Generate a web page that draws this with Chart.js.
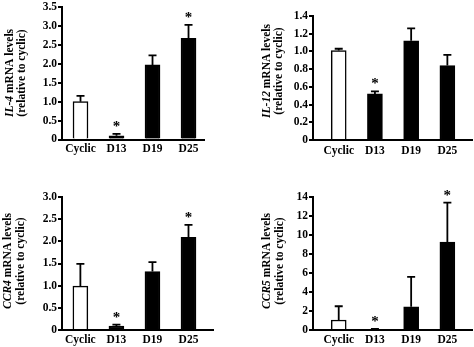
<!DOCTYPE html>
<html>
<head>
<meta charset="utf-8">
<script src="https://cdn.jsdelivr.net/npm/chart.js@4/dist/chart.umd.min.js"></script>
<style>
  html, body { margin: 0; padding: 0; background: #fff; }
  #wrap { position: relative; width: 474px; height: 347px; }
  canvas { position: absolute; }
</style>
</head>
<body>
<div id="wrap">
  <canvas id="c1" width="237" height="173" style="left:0;top:0"></canvas>
  <canvas id="c2" width="237" height="173" style="left:237px;top:0"></canvas>
  <canvas id="c3" width="237" height="174" style="left:0;top:173px"></canvas>
  <canvas id="c4" width="237" height="174" style="left:237px;top:173px"></canvas>
</div>
<script>
const categories = ['Cyclic', 'D13', 'D19', 'D25'];

// mean values and upper end of error bars (mean + SEM)
const il4Values = [1.0, 0.1, 1.97, 2.67];
const il4Upper = [1.15, 0.15, 2.22, 3.03];
const il4Signif = [false, true, false, true];

const il12Values = [1.01, 0.52, 1.12, 0.84];
const il12Upper = [1.03, 0.55, 1.26, 0.96];
const il12Signif = [false, true, false, false];

const ccr4Values = [0.99, 0.09, 1.32, 2.09];
const ccr4Upper = [1.49, 0.12, 1.53, 2.37];
const ccr4Signif = [false, true, false, true];

const ccr5Values = [1.05, 0.1, 2.45, 9.25];
const ccr5Upper = [2.5, 0.12, 5.6, 13.4];
const ccr5Signif = [false, true, false, true];

const FONT = '"Liberation Serif", "Times New Roman", serif';
const barColors = ['#ffffff', '#000000', '#000000', '#000000'];

const errorPlugin = {
  id: 'errors',
  afterDatasetsDraw(chart, args, opts) {
    const ctx = chart.ctx;
    const xs = chart.scales.x, ys = chart.scales.y;
    ctx.save();
    ctx.strokeStyle = '#000';
    ctx.lineWidth = 1.8;
    opts.upper.forEach((u, i) => {
      const x = xs.getPixelForValue(i);
      const y0 = ys.getPixelForValue(opts.values[i]);
      const y1 = ys.getPixelForValue(u);
      ctx.beginPath();
      ctx.moveTo(x, y0);
      ctx.lineTo(x, y1);
      ctx.moveTo(x - 4, y1);
      ctx.lineTo(x + 4, y1);
      ctx.stroke();
      if (opts.signif[i]) {
        ctx.fillStyle = '#000';
        ctx.font = 'bold 15px ' + FONT;
        ctx.textAlign = 'center';
        ctx.textBaseline = 'alphabetic';
        ctx.fillText('*', x, y1 - 3);
      }
    });
    ctx.restore();
  }
};

const titlePlugin = {
  id: 'ytitle',
  afterDraw(chart, args, opts) {
    const ctx = chart.ctx;
    ctx.save();
    ctx.translate(0, opts.cy);
    ctx.rotate(-Math.PI / 2);
    ctx.fillStyle = '#000';
    ctx.textBaseline = 'middle';
    ctx.textAlign = 'left';
    const it = 'italic bold 11.5px ' + FONT, rg = 'bold 11.5px ' + FONT;
    const rest = ' mRNA levels';
    ctx.font = it; const w1 = ctx.measureText(opts.gene).width;
    ctx.font = rg; const w2 = ctx.measureText(rest).width;
    let x = -(w1 + w2) / 2;
    ctx.font = it; ctx.fillText(opts.gene, x, opts.x1);
    ctx.font = rg; ctx.fillText(rest, x + w1, opts.x1);
    ctx.textAlign = 'center';
    ctx.fillText('(relative to cyclic)', 0, opts.x2);
    ctx.restore();
  }
};

function noPad(s) {
  s.paddingLeft = 0; s.paddingRight = 0; s.paddingTop = 0; s.paddingBottom = 0;
}

function makePanel(id, p) {
  const canvas = document.getElementById(id);
  const H = canvas.height, W = canvas.width;
  new Chart(canvas, {
    type: 'bar',
    data: {
      datasets: [{
        data: categories.map((c, i) => ({ x: i, y: p.values[i] })),
        backgroundColor: barColors,
        borderColor: '#000',
        borderWidth: 1.5,
        barThickness: 15
      }]
    },
    options: {
      responsive: false,
      animation: false,
      devicePixelRatio: 1,
      layout: { padding: { top: p.top, right: W - p.right, bottom: 0, left: 0 } },
      plugins: {
        legend: { display: false },
        tooltip: { enabled: false },
        errors: { values: p.values, upper: p.upper, signif: p.signif },
        ytitle: { gene: p.gene, x1: p.t1, x2: p.t2, cy: p.cy }
      },
      scales: {
        x: {
          type: 'linear',
          offset: false,
          min: p.xmin, max: p.xmax,
          afterBuildTicks: s => { s.ticks = categories.map((c, i) => ({ value: i })); },
          afterFit: s => { s.height = H - p.bottom; noPad(s); },
          grid: { display: false, drawTicks: false, offset: false },
          border: { display: true, color: '#000', width: 2 },
          ticks: {
            color: '#000', padding: p.xpad,
            autoSkip: false, minRotation: 0, maxRotation: 0,
            font: { family: FONT, size: 11.5, weight: 'bold' },
            callback: v => categories[v]
          }
        },
        y: {
          min: 0, max: p.ymax,
          afterFit: s => { s.width = p.left; noPad(s); },
          grid: { drawOnChartArea: false, color: '#000', lineWidth: 2, tickLength: 4 },
          border: { display: true, color: '#000', width: 2 },
          ticks: {
            stepSize: p.step, color: '#000', padding: 1,
            font: { family: FONT, size: 11.5, weight: 'bold' },
            callback: v => v === 0 ? '0' : (p.step < 1 ? v.toFixed(1) : String(v))
          }
        }
      }
    },
    plugins: [errorPlugin, titlePlugin]
  });
}

makePanel('c1', { values: il4Values, upper: il4Upper, signif: il4Signif, gene: 'IL-4',
  left: 62, right: 204, top: 7, bottom: 139.5, xmin: -0.514, xmax: 3.43, ymax: 3.5, step: 0.5,
  t1: 10, t2: 22, cy: 73, xpad: 3 });
makePanel('c2', { values: il12Values, upper: il12Upper, signif: il12Signif, gene: 'IL-12',
  left: 76, right: 235, top: 16, bottom: 140, xmin: -0.71, xmax: 3.68, ymax: 1.4, step: 0.2,
  t1: 30, t2: 42, cy: 71, xpad: 4 });
makePanel('c3', { values: ccr4Values, upper: ccr4Upper, signif: ccr4Signif, gene: 'CCR4',
  left: 62, right: 213, top: 24, bottom: 157, xmin: -0.51, xmax: 3.68, ymax: 3.0, step: 0.5,
  t1: 8, t2: 21, cy: 88, xpad: 3 });
makePanel('c4', { values: ccr5Values, upper: ccr5Upper, signif: ccr5Signif, gene: 'CCR5',
  left: 76, right: 235, top: 24, bottom: 157, xmin: -0.71, xmax: 3.68, ymax: 14, step: 2,
  t1: 30, t2: 43, cy: 88, xpad: 3 });
</script>
</body>
</html>
